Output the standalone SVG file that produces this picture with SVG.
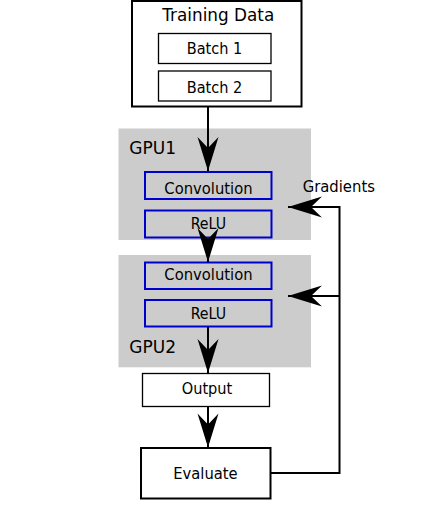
<svg xmlns="http://www.w3.org/2000/svg" width="429" height="506" viewBox="0 0 429 506">
<defs>
<style>
text{font-family:"DejaVu Sans","Liberation Sans",sans-serif;fill:#000;text-anchor:middle;font-size:16.5px}
.box{fill:#fff;stroke:#000;stroke-width:2}
.thin{fill:#fff;stroke:#000;stroke-width:1.3}
.blue{fill:none;stroke:#0000cc;stroke-width:2}
.gpu{fill:#cccccc;stroke:none}
.edge{fill:none;stroke:#000;stroke-width:2}
.big{font-size:17px;text-anchor:start}
</style>
<marker id="ah" markerUnits="userSpaceOnUse" markerWidth="40" markerHeight="24" viewBox="-35 -12 36 24" refX="0" refY="0" orient="auto">
<path d="M0,0 L-34,-10.5 L-23,0 L-34,10.5 Z" fill="#000"/>
</marker>
</defs>
<rect width="429" height="506" fill="#fff"/>
<g id="training">
<rect class="box" x="132" y="1" width="169.5" height="105.5"/>
<text x="218.3" y="20.7" style="font-size:18.5px" textLength="112" lengthAdjust="spacingAndGlyphs">Training Data</text>
</g>
<g id="batch1">
<rect class="thin" x="158.5" y="33.5" width="112.5" height="30"/>
<text x="214.5" y="53.5" textLength="55.6" lengthAdjust="spacingAndGlyphs">Batch 1</text>
</g>
<g id="batch2">
<rect class="thin" x="158.5" y="71" width="112.5" height="30"/>
<text x="214.5" y="92.7" textLength="55.6" lengthAdjust="spacingAndGlyphs">Batch 2</text>
</g>
<g id="gpu1">
<rect class="gpu" x="118.5" y="128.5" width="192.5" height="111.5"/>
<text class="big" x="129.3" y="154.3" textLength="46.7" lengthAdjust="spacingAndGlyphs">GPU1</text>
</g>
<g id="gpu2">
<rect class="gpu" x="118.5" y="255" width="192.5" height="112.3"/>
<text class="big" x="129.3" y="352.7" textLength="46.7" lengthAdjust="spacingAndGlyphs">GPU2</text>
</g>
<g id="conv1">
<rect class="blue" x="145" y="172" width="126.5" height="27"/>
<text x="208.5" y="193.5" textLength="88.3" lengthAdjust="spacingAndGlyphs">Convolution</text>
</g>
<g id="relu1">
<rect class="blue" x="145" y="210.5" width="126.5" height="27"/>
<text x="208.4" y="229.3" textLength="35.5" lengthAdjust="spacingAndGlyphs">ReLU</text>
</g>
<g id="conv2">
<rect class="blue" x="145" y="262.5" width="126.5" height="26.5"/>
<text x="208.5" y="280.3" textLength="88.3" lengthAdjust="spacingAndGlyphs">Convolution</text>
</g>
<g id="relu2">
<rect class="blue" x="145" y="300" width="126.5" height="26.5"/>
<text x="208.4" y="318.5" textLength="35.5" lengthAdjust="spacingAndGlyphs">ReLU</text>
</g>
<g id="output">
<rect class="thin" x="142.5" y="373.5" width="127" height="33"/>
<text x="207" y="394.3" textLength="50.6" lengthAdjust="spacingAndGlyphs">Output</text>
</g>
<g id="evaluate">
<rect class="box" x="141" y="448" width="129.5" height="50.5"/>
<text x="205.5" y="478.5" textLength="64.4" lengthAdjust="spacingAndGlyphs">Evaluate</text>
</g>
<text x="338.8" y="192" textLength="72.3" lengthAdjust="spacingAndGlyphs">Gradients</text>
<g id="connectors">
<path class="edge" d="M208,107 L208,171" marker-end="url(#ah)"/>
<path class="edge" d="M208,238.5 L208,262" marker-end="url(#ah)"/>
<path class="edge" d="M208,327 L208,373" marker-end="url(#ah)"/>
<path class="edge" d="M208,407 L208,447.5" marker-end="url(#ah)"/>
<path class="edge" d="M271,473 L339.5,473 L339.5,207 L288,207" marker-end="url(#ah)"/>
<path class="edge" d="M339.5,296 L288,296" marker-end="url(#ah)"/>
</g>
</svg>
